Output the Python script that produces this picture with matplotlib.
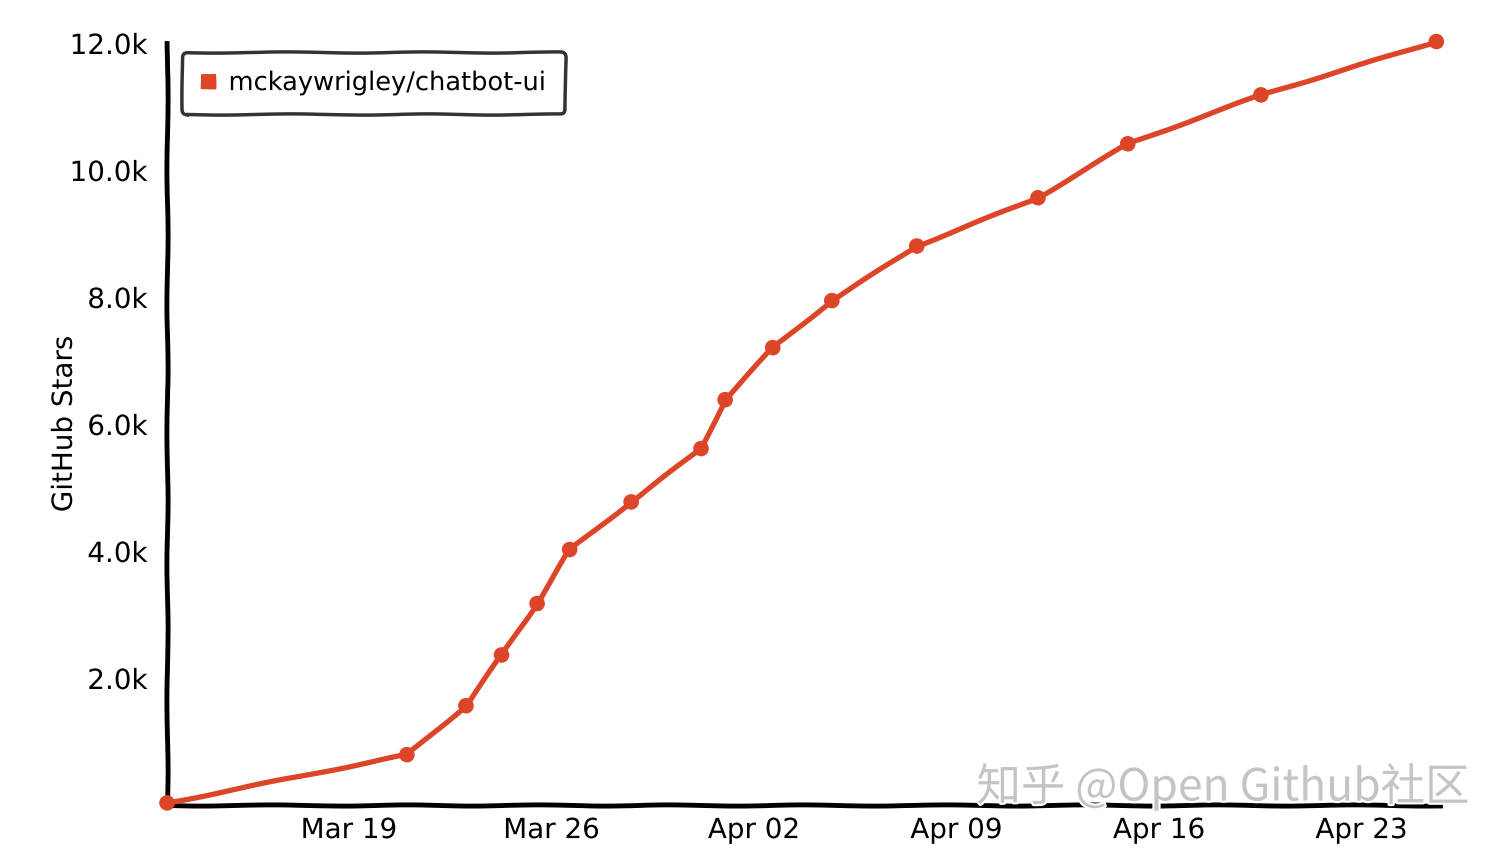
import matplotlib
matplotlib.use("Agg")
import matplotlib.pyplot as plt
import matplotlib.dates as mdates
import matplotlib.patheffects as pe
from matplotlib.ticker import FuncFormatter
import pandas as pd

# star history samples
dates = [
    "2023-03-12 17:00", "2023-03-21 00:00", "2023-03-23 01:00", "2023-03-24 06:30",
    "2023-03-25 12:00", "2023-03-26 15:00", "2023-03-28 18:00", "2023-03-31 04:00",
    "2023-04-01 00:00", "2023-04-02 15:30", "2023-04-04 16:30", "2023-04-07 15:00",
    "2023-04-11 19:30", "2023-04-14 22:00", "2023-04-19 12:30", "2023-04-25 14:00",
]
stars = [30, 790, 1560, 2360, 3170, 4020, 4770, 5610,
         6380, 7200, 7940, 8800, 9560, 10410, 11180, 12020]
repo = "mckaywrigley/chatbot-ui"
y_label = "GitHub Stars"
watermark = "知乎 @Open Github社区"

red = "#dd4528"

def k_fmt(v, pos):
    if v <= 0:
        return ""
    return f"{v / 1000:.1f}k"

with plt.xkcd(scale=0.6, length=150, randomness=2):
    plt.rcParams["font.family"] = ["DejaVu Sans"]
    fig = plt.figure(figsize=(15.1, 8.56), dpi=100)
    ax = fig.add_axes([0.1106, 0.0596, 0.843, 0.8902])

    x = pd.to_datetime(dates)
    ax.plot(x, stars, color=red, lw=3.8, marker="o", ms=10,
            mec=red, mfc=red, label=repo, path_effects=[pe.Normal()],
            clip_on=False, zorder=5)

    ax.set_ylim(0, 12000)
    ax.set_xlim(x[0], x[-1] + pd.Timedelta(hours=3))
    ax.set_yticks([2000, 4000, 6000, 8000, 10000, 12000])
    ax.yaxis.set_major_formatter(FuncFormatter(k_fmt))
    ax.xaxis.set_major_locator(mdates.WeekdayLocator(byweekday=mdates.SU))
    ax.xaxis.set_major_formatter(mdates.DateFormatter("%b %d"))
    ax.tick_params(length=0, labelsize=20)
    ax.tick_params(axis="y", pad=14)
    ax.tick_params(axis="x", pad=8)

    for side in ("top", "right"):
        ax.spines[side].set_visible(False)
    for side in ("left", "bottom"):
        ax.spines[side].set_linewidth(3.5)

    ax.set_ylabel(y_label, fontsize=20, labelpad=-6)

    leg = ax.legend(loc="upper left", fontsize=18.5, handlelength=0.6,
                    handletextpad=0.5, borderpad=0.7, borderaxespad=0,
                    frameon=True, bbox_to_anchor=(0.012, 0.988))
    leg.get_frame().set_linewidth(2.5)
    leg.get_frame().set_edgecolor("black")
    for h in leg.legend_handles:
        h.set_marker("s")
        h.set_linestyle("none")

    fig.text(0.9735, 0.081, watermark, fontsize=32, color="#c4c4c4",
             ha="right", va="center",
             family=["Noto Sans CJK SC", "DejaVu Sans"],
             path_effects=[pe.withStroke(linewidth=3, foreground="white")])

    fig.savefig("out.png", dpi=100)
